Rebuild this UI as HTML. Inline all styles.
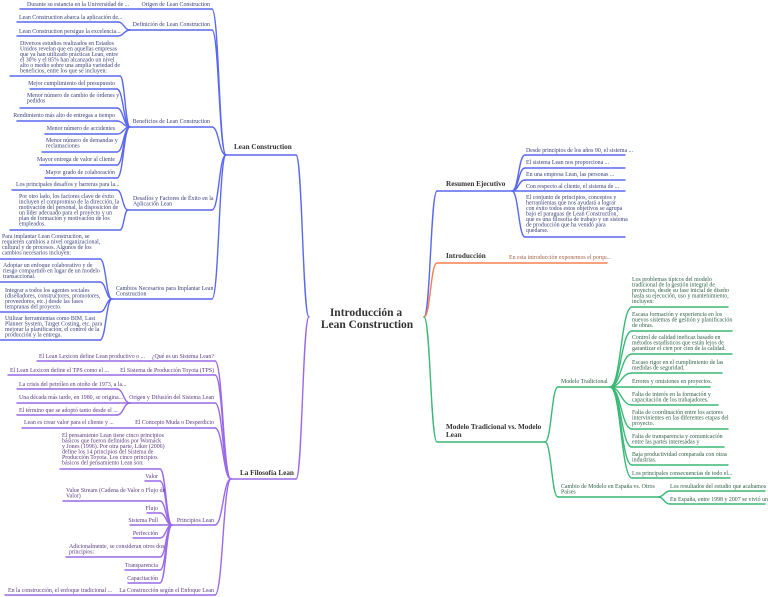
<!DOCTYPE html>
<html><head><meta charset="utf-8"><style>
html,body{margin:0;padding:0;background:#fff;}
svg{display:block;}
text{font-family:"Liberation Serif","DejaVu Serif",serif;font-size:5.9px;}
.b{fill:#3a3f7a}.p{fill:#5a3a80}.g{fill:#2f6048}.o{fill:#a0604a}
.h{font-size:7.2px;font-weight:bold;fill:#333}
</style></head><body>
<svg id="s" width="768" height="597" viewBox="0 0 768 597" xmlns="http://www.w3.org/2000/svg">
<g id="lines" fill="none" stroke-width="1.4" stroke-linecap="round"></g>
<text x="366" y="316" text-anchor="middle" style="font-size:11.5px;font-weight:bold;fill:#333">Introducción a</text>
<text x="367" y="328" text-anchor="middle" style="font-size:11.5px;font-weight:bold;fill:#333">Lean Construction</text>
<text class="h" x="234" y="149">Lean Construction</text>
<text class="h" x="240" y="475">La Filosofía Lean</text>
<text class="h" x="446" y="186">Resumen Ejecutivo</text>
<text class="h" x="446" y="258">Introducción</text>
<text class="h" x="446" y="429">Modelo Tradicional vs. Modelo</text>
<text class="h" x="446" y="437">Lean</text>
<g class="b">
<text x="210" y="6" text-anchor="end">Origen de Lean Construction</text>
<text x="27" y="6">Durante su estancia en la Universidad de ...</text>
<text x="210" y="26" text-anchor="end">Definición de Lean Construction</text>
<text x="19" y="19">Lean Construction abarca la aplicación de...</text>
<text x="19" y="33">Lean Construction persigue la excelencia...</text>
<text x="20" y="45">Diversos estudios realizados en Estados</text>
<text x="20" y="50.5">Unidos revelan que en aquellas empresas</text>
<text x="20" y="56">que ya han utilizado prácticas Lean, entre</text>
<text x="20" y="61.5">el 30% y el 85% han alcanzado un nivel</text>
<text x="20" y="67">alto o medio sobre una amplia variedad de</text>
<text x="20" y="72.5">beneficios, entre los que se incluyen:</text>
<text x="210" y="123" text-anchor="end">Beneficios de Lean Construction</text>
<text x="115" y="85" text-anchor="end">Mejor cumplimiento del presupuesto</text>
<text x="27" y="97">Menor número de cambio de órdenes y</text>
<text x="27" y="102.5">pedidos</text>
<text x="115" y="117" text-anchor="end">Rendimiento más alto de entregas a tiempo</text>
<text x="115" y="130" text-anchor="end">Menor número de accidentes</text>
<text x="46" y="142">Menor número de demandas y</text>
<text x="46" y="147.5">reclamaciones</text>
<text x="115" y="161" text-anchor="end">Mayor entrega de valor al cliente</text>
<text x="115" y="174" text-anchor="end">Mayor grado de colaboración</text>
<text x="16" y="186">Los principales desafíos y barreras para la...</text>
<text x="19" y="198">Por otro lado, los factores clave de éxito</text>
<text x="19" y="203.5">incluyen el compromiso de la dirección, la</text>
<text x="19" y="209">motivación del personal, la disposición de</text>
<text x="19" y="214.5">un líder adecuado para el proyecto y un</text>
<text x="19" y="220">plan de formación y motivación de los</text>
<text x="19" y="225.5">empleados.</text>
<text x="133" y="200">Desafíos y Factores de Éxito en la</text>
<text x="133" y="205.5">Aplicación Lean</text>
<text x="2" y="238">Para implantar Lean Construction, se</text>
<text x="2" y="243.5">requieren cambios a nivel organizacional,</text>
<text x="2" y="249">cultural y de procesos. Algunos de los</text>
<text x="2" y="254.5">cambios necesarios incluyen:</text>
<text x="3" y="267">Adoptar un enfoque colaborativo y de</text>
<text x="3" y="272.5">riesgo compartido en lugar de un modelo</text>
<text x="3" y="278">transaccional.</text>
<text x="5" y="292">Integrar a todos los agentes sociales</text>
<text x="5" y="297.5">(diseñadores, constructores, promotores,</text>
<text x="5" y="303">proveedores, etc.) desde las fases</text>
<text x="5" y="308.5">tempranas del proyecto.</text>
<text x="5" y="320">Utilizar herramientas como BIM, Last</text>
<text x="5" y="325.5">Planner System, Target Costing, etc. para</text>
<text x="5" y="331">mejorar la planificación, el control de la</text>
<text x="5" y="336.5">producción y la entrega.</text>
<text x="116" y="290">Cambios Necesarios para Implantar Lean</text>
<text x="116" y="295.5">Construction</text>
</g>
<g class="p">
<text x="214" y="358" text-anchor="end">¿Qué es un Sistema Lean?</text>
<text x="39" y="358">El Lean Lexicon define Lean productivo o ...</text>
<text x="214" y="372" text-anchor="end">El Sistema de Producción Toyota (TPS)</text>
<text x="10" y="372">El Lean Lexicon define el TPS como el ...</text>
<text x="19" y="386">La crisis del petróleo en otoño de 1973, a la...</text>
<text x="19" y="399">Una década más tarde, en 1980, se origina...</text>
<text x="19" y="412">El término que se adoptó tanto desde el ...</text>
<text x="214" y="399" text-anchor="end">Origen y Difusión del Sistema Lean</text>
<text x="214" y="424" text-anchor="end">El Concepto Muda o Desperdicio</text>
<text x="24" y="424">Lean es crear valor para el cliente y ...</text>
<text x="62" y="437">El pensamiento Lean tiene cinco principios</text>
<text x="62" y="442.5">básicos que fueron definidos por Womack</text>
<text x="62" y="448">y Jones (1996). Por otra parte, Liker (2006)</text>
<text x="62" y="453.5">define los 14 principios del Sistema de</text>
<text x="62" y="459">Producción Toyota. Los cinco principios</text>
<text x="62" y="464.5">básicos del pensamiento Lean son:</text>
<text x="158" y="478" text-anchor="end">Valor</text>
<text x="66" y="492">Value Stream (Cadena de Valor o Flujo de</text>
<text x="66" y="497.5">Valor)</text>
<text x="158" y="510" text-anchor="end">Flujo</text>
<text x="158" y="522" text-anchor="end">Sistema Pull</text>
<text x="214" y="522" text-anchor="end">Principios Lean</text>
<text x="158" y="535" text-anchor="end">Perfección</text>
<text x="69" y="548">Adicionalmente, se consideran otros dos</text>
<text x="69" y="553.5">principios:</text>
<text x="158" y="567" text-anchor="end">Transparencia</text>
<text x="158" y="580" text-anchor="end">Capacitación</text>
<text x="214" y="592" text-anchor="end">La Construcción según el Enfoque Lean</text>
<text x="8" y="592">En la construcción, el enfoque tradicional ...</text>
</g>
<g class="b">
<text x="526" y="152">Desde principios de los años 90, el sistema ...</text>
<text x="526" y="164">El sistema Lean nos proporciona ...</text>
<text x="526" y="176">En una empresa Lean, las personas ...</text>
<text x="526" y="188">Con respecto al cliente, el sistema de ...</text>
<text x="526" y="199">El conjunto de principios, conceptos y</text>
<text x="526" y="204.5">herramientas que nos ayudará a lograr</text>
<text x="526" y="210">con éxito todos estos objetivos se agrupa</text>
<text x="526" y="215.5">bajo el paraguas de Lean Construction,</text>
<text x="526" y="221">que es una filosofía de trabajo y un sistema</text>
<text x="526" y="226.5">de producción que ha venido para</text>
<text x="526" y="232">quedarse.</text>
</g>
<text class="o" x="509" y="259">En esta introducción exponemos el porqu...</text>
<g class="g">
<text x="561" y="383">Modelo Tradicional</text>
<text x="632" y="281">Los problemas típicos del modelo</text>
<text x="632" y="286.5">tradicional de la gestión integral de</text>
<text x="632" y="292">proyectos, desde su fase inicial de diseño</text>
<text x="632" y="297.5">hasta su ejecución, uso y mantenimiento,</text>
<text x="632" y="303">incluyen:</text>
<text x="632" y="316">Escasa formación y experiencia en los</text>
<text x="632" y="321.5">nuevos sistemas de gestión y planificación</text>
<text x="632" y="327">de obras.</text>
<text x="632" y="339">Control de calidad ineficaz basado en</text>
<text x="632" y="344.5">métodos estadísticos que están lejos de</text>
<text x="632" y="350">garantizar el cien por cien de la calidad.</text>
<text x="632" y="364">Escaso rigor en el cumplimiento de las</text>
<text x="632" y="369.5">medidas de seguridad.</text>
<text x="632" y="383">Errores y omisiones en proyectos.</text>
<text x="632" y="396">Falta de interés en la formación y</text>
<text x="632" y="401.5">capacitación de los trabajadores.</text>
<text x="632" y="414">Falta de coordinación entre los actores</text>
<text x="632" y="419.5">intervinientes en las diferentes etapas del</text>
<text x="632" y="425">proyecto.</text>
<text x="632" y="438">Falta de transparencia y comunicación</text>
<text x="632" y="443.5">entre las partes interesadas y</text>
<text x="632" y="456">Baja productividad comparada con otras</text>
<text x="632" y="461.5">industrias.</text>
<text x="632" y="475">Los principales consecuencias de todo el...</text>
<text x="561" y="488">Cambio de Modelo en España vs. Otros</text>
<text x="561" y="493.5">Países</text>
<text x="670" y="488">Los resultados del estudio que acabamos ...</text>
<text x="670" y="501">En España, entre 1998 y 2007 se vivió un ...</text>
</g>
</svg>
<script>
var g=document.getElementById('lines');
function P(d,c){var p=document.createElementNS('http://www.w3.org/2000/svg','path');p.setAttribute('d',d);p.setAttribute('stroke',c);g.appendChild(p);}
function C(x1,y1,x2,y2,c){var m=(x1+x2)/2;P('M'+x1+' '+y1+'C'+m+' '+y1+' '+m+' '+y2+' '+x2+' '+y2,c);}
function U(a,b,y,c){P('M'+a+' '+y+'L'+b+' '+y,c);}
function L(jx,jy,list,c){list.forEach(function(n){U(n[0],n[1],n[2],c);C(jx,jy,n[1],n[2],c);});}
function R(jx,jy,list,c){list.forEach(function(n){U(n[0],n[1],n[2],c);C(jx,jy,n[0],n[2],c);});}
var B='#5a68f0',Pu='#9a6ae6',G='#3bb877',O='#f58050';
U(226,296,155,B);C(296,155,309,317,B);
U(231,296,479,Pu);C(296,479,309,317,Pu);
U(437,512,191,B);C(424,317,437,191,B);
U(437,607,263,O);C(424,317,437,263,O);
U(437,545,442,G);C(424,317,437,442,G);
L(226,155,[[140,212,9],[130,212,30],[130,212,127],[128,212,210],[112,212,299]],B);
L(140,9,[[20,123,9]],B);
L(130,30,[[17,118,22],[17,118,36]],B);
L(130,127,[[10,120,76],[30,117,89],[20,117,108],[17,117,121],[45,117,134],[42,117,152],[40,117,165],[45,117,178]],B);
L(128,210,[[12,117,190],[10,120,230]],B);
L(112,299,[[0,100,259],[0,100,282],[0,100,312],[0,100,340]],B);
L(231,479,[[150,215,361],[124,215,375],[130,215,403],[136,215,428],[172,215,525],[120,215,595]],Pu);
L(150,361,[[37,140,361]],Pu);
L(124,375,[[8,110,375]],Pu);
L(130,403,[[17,117,389],[17,117,403],[17,117,415]],Pu);
L(136,428,[[22,112,428]],Pu);
L(172,525,[[60,160,469],[145,160,481],[63,160,501],[147,160,513],[130,160,525],[133,160,538],[66,160,557],[125,160,570],[128,160,583]],Pu);
L(120,595,[[5,105,595]],Pu);
R(512,191,[[525,625,155],[525,625,168],[525,625,180],[525,625,191],[525,625,237]],B);
R(545,442,[[558,610,387],[558,658,497]],G);
R(610,387,[[632,728,307],[632,732,331],[632,732,354],[632,722,373],[632,710,387],[632,718,405],[632,728,429],[632,724,447],[632,728,465],[632,730,478]],G);
R(658,497,[[670,765,491],[670,765,504]],G);
</script>
</body></html>
